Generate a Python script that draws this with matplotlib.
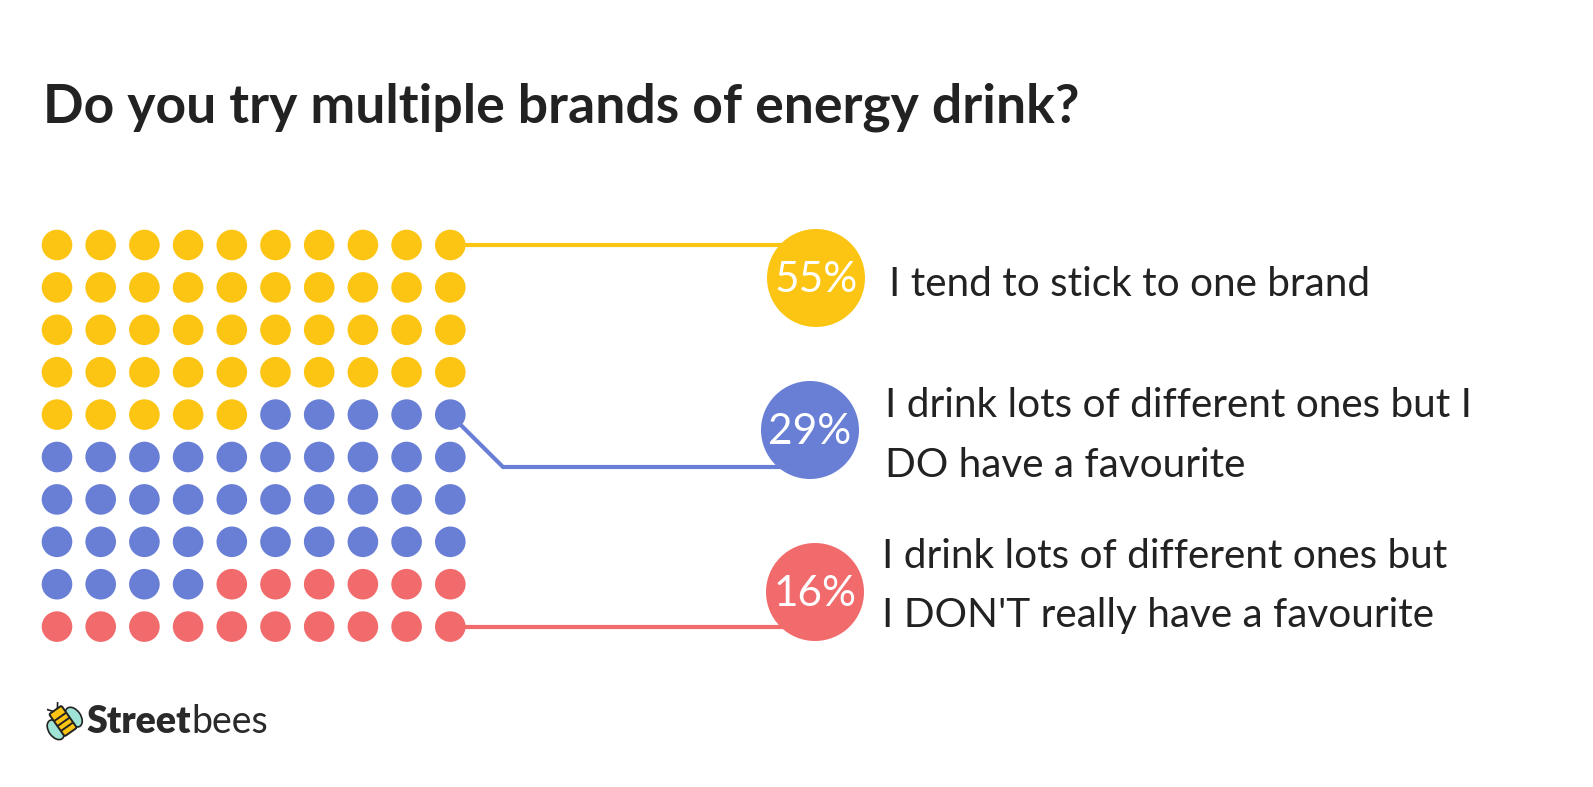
import numpy as np
import matplotlib.pyplot as plt
import matplotlib.transforms as mtransforms
from matplotlib.patches import Circle, Ellipse, FancyBboxPatch

# data
title = "Do you try multiple brands of energy drink?"
dot_counts = [45, 39, 16]          # dots drawn in the waffle grid
percents = ["55%", "29%", "16%"]   # numbers shown in the bubbles
labels = [
    ["I tend to stick to one brand"],
    ["I drink lots of different ones but I", "DO have a favourite"],
    ["I drink lots of different ones but", "I DON'T really have a favourite"],
]
colors = ["#FCC514", "#687FD5", "#F26B6C"]

# layout (pixel space)
W, H = 1593, 787
grid_x0, grid_dx = 57, 43.7
grid_y0, grid_dy = 245, 42.4
dot_r = 15.3
bubble_xy = [(816, 278), (810, 430), (815, 592)]
bubble_r = 49
label_x = [889, 885, 882]
label_base = [[296], [417, 477], [568, 627]]
text_col = "#222222"

fig = plt.figure(figsize=(W / 100, H / 100), dpi=100)
ax = fig.add_axes([0, 0, 1, 1])
ax.set_xlim(0, W)
ax.set_ylim(H, 0)
ax.axis("off")

ax.text(43, 123, title, fontsize=38.5, fontweight="bold", family="Lato",
        color=text_col, va="baseline", ha="left")

# waffle grid, filled row by row
cells = np.repeat(np.arange(len(dot_counts)), dot_counts)
for i, c in enumerate(cells):
    row, col = divmod(i, 10)
    ax.add_patch(Circle((grid_x0 + col * grid_dx, grid_y0 + row * grid_dy),
                        dot_r, color=colors[c], lw=0, zorder=3))

# connector lines from the grid to the bubbles
right = grid_x0 + 9 * grid_dx
ax.plot([right, 790], [grid_y0, grid_y0], color=colors[0], lw=3, zorder=2)
y4 = grid_y0 + 4 * grid_dy
ax.plot([right, 503, 790], [y4, 467, 467], color=colors[1], lw=3, zorder=2,
        solid_joinstyle="miter")
y9 = grid_y0 + 9 * grid_dy
ax.plot([right, 790], [y9, y9], color=colors[2], lw=3, zorder=2)

for (bx, by), p, c in zip(bubble_xy, percents, colors):
    ax.add_patch(Circle((bx, by), bubble_r, color=c, lw=0, zorder=4))
    ax.text(bx, by + 14, p, fontsize=30.5, family="Lato", color="white",
            ha="center", va="baseline", zorder=5)

for lx, bases, lines in zip(label_x, label_base, labels):
    for yb, line in zip(bases, lines):
        ax.text(lx, yb, line, fontsize=29.2, family="Lato", color=text_col,
                ha="left", va="baseline")

# Streetbees logo: tilted bee + wordmark
rot = mtransforms.Affine2D().rotate_deg_around(63, 721, -35) + ax.transData
ax.add_patch(Ellipse((52, 724), 14, 22, angle=0, fc="#9EE3D6", ec="#222",
                     lw=1.2, zorder=6, transform=rot))
ax.add_patch(Ellipse((74, 724), 14, 22, angle=0, fc="#9EE3D6", ec="#222",
                     lw=1.2, zorder=6, transform=rot))
ax.add_patch(FancyBboxPatch((57, 709), 12, 24, boxstyle="round,pad=1.5",
                            fc="#FCC514", ec="#222", lw=1.4, zorder=7, transform=rot))
for sy in (716, 722, 728):
    ax.plot([57, 69], [sy, sy], color="#222", lw=1.4, zorder=8, transform=rot)
ax.plot([60, 57], [707, 703], color="#222", lw=1.2, zorder=8, transform=rot)
ax.plot([66, 69], [707, 703], color="#222", lw=1.2, zorder=8, transform=rot)
t = ax.text(86, 733, "Street", fontsize=27, fontweight="heavy", family="Lato",
            color="#2a2a2a", va="baseline", ha="left")
fig.canvas.draw()
bb = t.get_window_extent()
ax.text(bb.x1 + 1, 733, "bees", fontsize=27, fontweight="normal", family="Lato",
        color="#2a2a2a", va="baseline", ha="left")

fig.savefig("out.png", dpi=100, facecolor="white")
